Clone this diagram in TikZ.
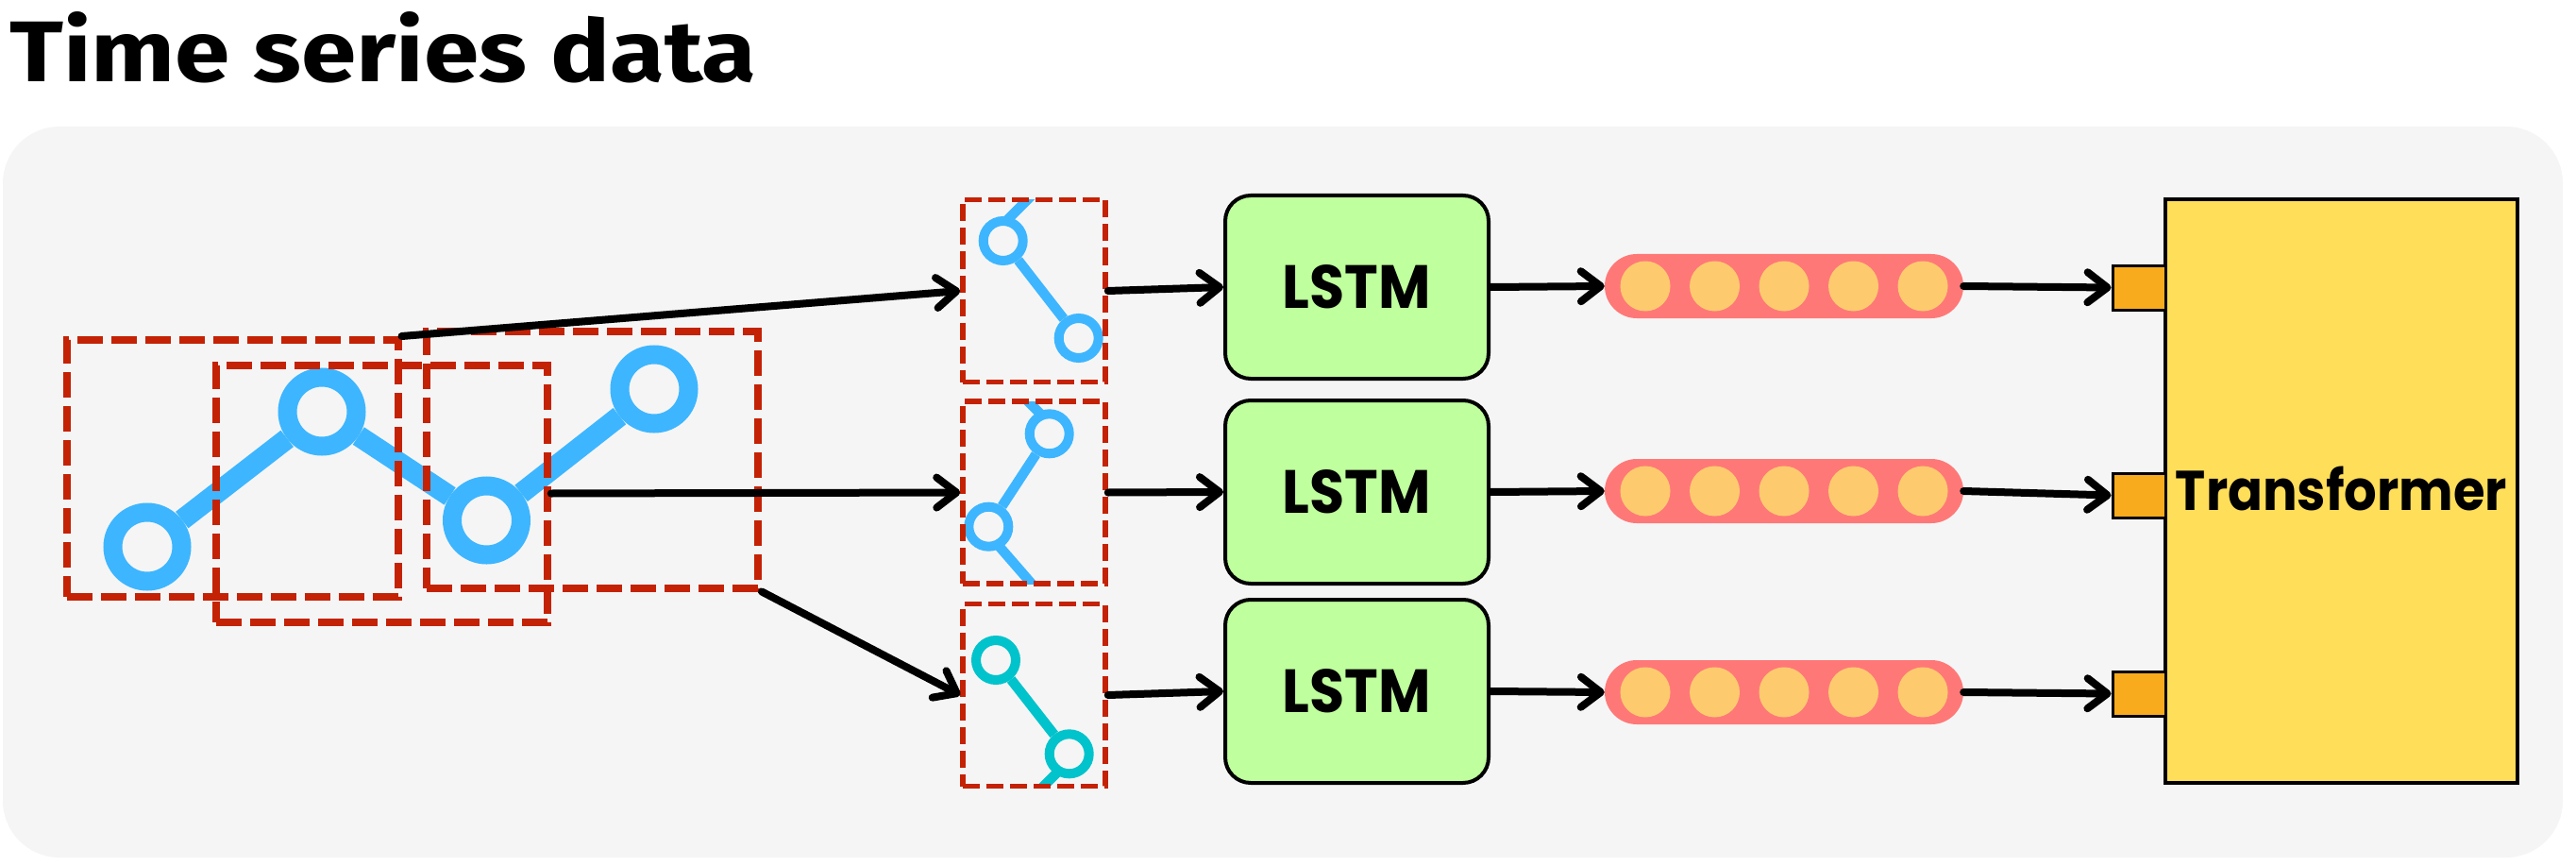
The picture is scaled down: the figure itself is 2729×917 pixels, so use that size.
\documentclass[tikz,border=0pt]{standalone}
\usepackage{fontspec}
\newfontfamily\titlefont{Fira Sans}
\newfontfamily\boxfont{Poppins}
\usetikzlibrary{arrows.meta}
\definecolor{panel}{HTML}{F5F5F5}
\definecolor{dashred}{HTML}{C42205}
\definecolor{series}{HTML}{3DB6FF}
\definecolor{tealseries}{HTML}{00C3CC}
\definecolor{lstmgreen}{HTML}{BFFF9D}
\definecolor{barred}{HTML}{FF7878}
\definecolor{dotyellow}{HTML}{FDCB6E}
\definecolor{tfyellow}{HTML}{FFDE59}
\definecolor{portorange}{HTML}{F8AB1D}
\begin{document}
\begin{tikzpicture}[x=1pt,y=-1pt,
  bigwin/.style={draw=dashred, line width=8pt, dash pattern=on 27pt off 9pt,
    minimum width=351pt, minimum height=272pt, inner sep=0pt},
  smallwin/.style={draw=dashred, line width=5.5pt, dash pattern=on 18pt off 7pt,
    minimum width=151pt, minimum height=193pt, inner sep=0pt},
  bigring/.style={circle, draw=series, fill=panel, line width=20pt, minimum size=73pt, inner sep=0pt},
  bigline/.style={draw=series, line width=22pt},
  smallring/.style={circle, draw=#1, fill=panel, line width=10pt, minimum size=42pt, inner sep=0pt},
  smallline/.style={draw=#1, line width=10.5pt},
  lstmbox/.style={draw=black, fill=lstmgreen, line width=4pt, rounded corners=27pt,
    minimum width=279pt, minimum height=194pt, inner sep=0pt},
  embbar/.style={fill=barred, rounded corners=34pt, minimum width=380pt, minimum height=68pt, inner sep=0pt},
  embdot/.style={circle, fill=dotyellow, minimum size=53pt, inner sep=0pt},
  port/.style={draw=black, fill=portorange, line width=3pt, minimum width=56pt, minimum height=47pt, inner sep=0pt},
  arr/.style={draw=black, line width=8pt, line cap=round, -{Straight Barb[length=21pt,width=32pt,round]}},
]
\useasboundingbox (0,0) rectangle (2729,917);
% title
\node[anchor=base west, inner sep=0pt] (title) at (10,87)
  {\resizebox{791pt}{74pt}{\titlefont\bfseries Time series data}};
% panel
\node[fill=panel, rounded corners=60pt, minimum width=2712pt, minimum height=774pt, inner sep=0pt]
  (panel) at (1359,521) {};

% time series
\node[bigring] (p1) at (156,579) {};
\node[bigring] (p2) at (341,436) {};
\node[bigring] (p3) at (515.5,551) {};
\node[bigring] (p4) at (693,412) {};
\draw[bigline] (p1) -- (p2);
\draw[bigline] (p2) -- (p3);
\draw[bigline] (p3) -- (p4);

% sliding windows
\node[bigwin] (boxA) at (246,496) {};
\node[bigwin] (boxB) at (404.3,522.5) {};
\node[bigwin] (boxC) at (627.5,486.5) {};

% small windows contents
\coordinate (w1pos) at (1095.5,308);
\coordinate (w2pos) at (1095.5,521.5);
\coordinate (w3pos) at (1095.5,736);
\begin{scope}
  \clip (1020,212) rectangle (1171,404);
  \draw[smallline=series] (1050,250) -- (1100,200);
  \node[smallring=series] (w1a) at (1062.7,255) {};
  \node[smallring=series] (w1b) at (1142.7,358) {};
  \draw[smallline=series] (w1a) -- (w1b);
\end{scope}
\begin{scope}
  \clip (1020,425) rectangle (1171,618);
  \draw[smallline=series] (1118,454) -- (1080,416);
  \draw[smallline=series] (1045,563) -- (1105,632);
  \node[smallring=series] (w2a) at (1111.7,459.3) {};
  \node[smallring=series] (w2b) at (1047.3,557.7) {};
  \draw[smallline=series] (w2a) -- (w2b);
\end{scope}
\begin{scope}
  \clip (1020,639) rectangle (1171,833);
  \draw[smallline=tealseries] (1130,808) -- (1095,843);
  \node[smallring=tealseries] (w3a) at (1055,699) {};
  \node[smallring=tealseries] (w3b) at (1132.7,798.3) {};
  \draw[smallline=tealseries] (w3a) -- (w3b);
\end{scope}
\node[smallwin] (w1) at (w1pos) {};
\node[smallwin] (w2) at (w2pos) {};
\node[smallwin] (w3) at (w3pos) {};

% LSTMs
\node[lstmbox] (l1) at (1437.5,304) {\resizebox{157pt}{46pt}{\boxfont\bfseries LSTM}};
\node[lstmbox] (l2) at (1437.5,521) {\resizebox{157pt}{46pt}{\boxfont\bfseries LSTM}};
\node[lstmbox] (l3) at (1437.5,732) {\resizebox{157pt}{46pt}{\boxfont\bfseries LSTM}};

% embedding bars
\node[embbar] (e1) at (1890,303) {};
\node[embbar] (e2) at (1890,520) {};
\node[embbar] (e3) at (1890,733) {};
\foreach \b/\y in {1/303,2/520,3/733}{
  \foreach \k in {0,...,4}{
    \node[embdot] (e\b d\k) at ({1743+73.5*\k},\y) {};
  }
}

% transformer
\node[draw=black, fill=tfyellow, line width=3.5pt, minimum width=373pt, minimum height=618pt, inner sep=0pt]
  (tf) at (2480.5,520) {\raisebox{5pt}{\resizebox{351pt}{46.5pt}{\boxfont\bfseries Transformer}}};
\node[port] (t1) at (2266,304.5) {};
\node[port] (t2) at (2266,524.5) {};
\node[port] (t3) at (2266,734.5) {};

% arrows
\draw[arr] (boxA.north east) -- (w1.west);
\draw[arr] (boxB.east) -- (w2.west);
\draw[arr] (boxC.south east) -- (w3.west);
\draw[arr] (w1.east) -- (l1.west);
\draw[arr] (w2.east) -- (l2.west);
\draw[arr] (w3.east) -- (l3.west);
\draw[arr] (l1.east) -- (e1.west);
\draw[arr] (l2.east) -- (e2.west);
\draw[arr] (l3.east) -- (e3.west);
\draw[arr] (e1.east) -- (t1.west);
\draw[arr] (e2.east) -- (t2.west);
\draw[arr] (e3.east) -- (t3.west);
\end{tikzpicture}
\end{document}
